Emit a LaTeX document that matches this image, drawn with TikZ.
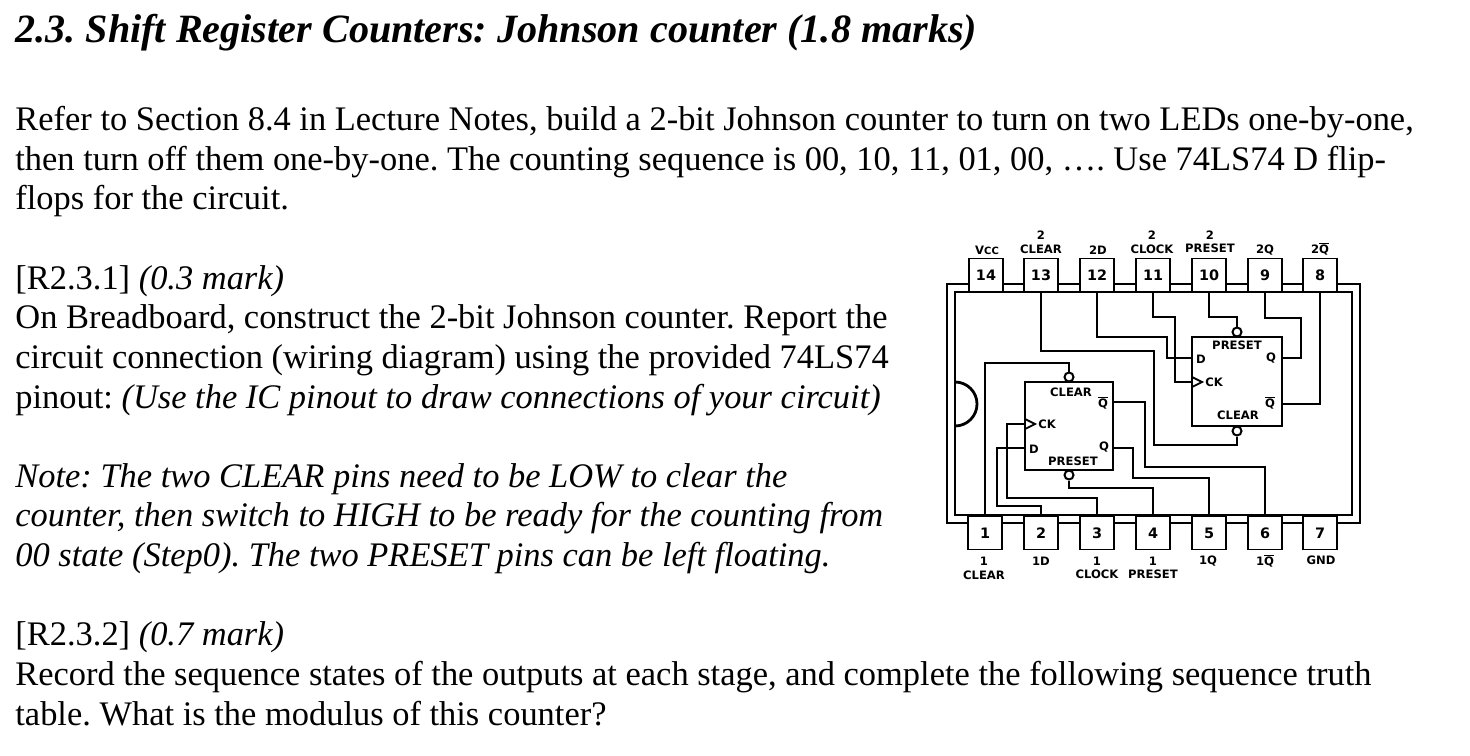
\documentclass[tikz,border=0pt]{standalone}
\usepackage{fontspec}
\setmainfont{Liberation Serif}
\setsansfont{DejaVu Sans}
\frenchspacing
\usetikzlibrary{positioning}

\tikzset{
  bodytext/.style={anchor=base west, inner sep=0pt, font=\fontsize{17.22}{20}\selectfont},
  headtext/.style={anchor=base west, inner sep=0pt, font=\fontsize{20.08}{22}\selectfont\bfseries\itshape},
  pinbox/.style={draw, line width=0.9pt, minimum width=17pt, minimum height=16.5pt, inner sep=0pt, font=\sffamily\bfseries\fontsize{7.2}{8}\selectfont},
  pinlabel/.style={inner sep=0pt, font=\sffamily\bfseries\fontsize{5.8}{7}\selectfont},
  fflabel/.style={inner sep=0pt, font=\sffamily\bfseries\fontsize{5.8}{7}\selectfont},
  ffbox/.style={draw, line width=1pt, inner sep=0pt},
  bubble/.style={circle, draw, line width=1pt, minimum size=4.5pt, inner sep=0pt},
  wire/.style={line width=0.9pt}
}

\newcommand{\qbar}{\leavevmode\vbox{\hrule height 0.5pt \kern 0.4pt \hbox{Q}}}

\begin{document}
\begin{tikzpicture}[x=0.5pt, y=-0.5pt]
  \useasboundingbox (0, 0) rectangle (1470, 755);

  % question text
  \foreach \ytext / \mytext in {
    130 / {Refer to Section 8.4 in Lecture Notes, build a 2-bit Johnson counter to turn on two LEDs one-by-one,},
    170 / {then turn off them one-by-one. The counting sequence is 00, 10, 11, 01, 00, \dots. Use 74LS74 D flip-},
    209 / {flops for the circuit.},
    328 / {On Breadboard, construct the 2-bit Johnson counter. Report the},
    368 / {circuit connection (wiring diagram) using the provided 74LS74},
    685 / {Record the sequence states of the outputs at each stage, and complete the following sequence truth},
    725 / {table. What is the modulus of this counter?}
  }{
    \node[bodytext] at (15, \ytext) {\mytext};
  }
  \node[headtext] (title) at (15, 42) {2.3. Shift Register Counters: Johnson counter (1.8 marks)};
  \node[bodytext] (reqone) at (15, 289) {[R2.3.1] \textit{(0.3 mark)}};
  \node[bodytext] (pinout) at (15, 408) {pinout: \textit{(Use the IC pinout to draw connections of your circuit)}};
  \node[bodytext] (noteone) at (15, 487) {\textit{Note: The two CLEAR pins need to be LOW to clear the}};
  \node[bodytext] (notetwo) at (15, 526) {\textit{counter, then switch to HIGH to be ready for the counting from}};
  \node[bodytext] (notethree) at (15, 566) {\textit{00 state (Step0). The two PRESET pins can be left floating.}};
  \node[bodytext] (reqtwo) at (15, 645) {[R2.3.2] \textit{(0.7 mark)}};

  % package outline, double line
  \draw[wire] (947, 284) -- (947, 523) -- (1360, 523) -- (1360, 284) -- cycle;
  \draw[wire] (955, 292) -- (955, 515) -- (1352, 515) -- (1352, 292) -- cycle;
  \draw[line width=1.4pt] (955, 382) arc (-90:90:22);

  % pins
  \foreach \pin / \xpin in {14/986, 13/1041, 12/1097, 11/1153, 10/1209, 9/1265, 8/1320}{
    \node[pinbox, fill=white] (p\pin) at (\xpin, 275) {\pin};
  }
  \foreach \pin / \xpin in {1/985, 2/1041, 3/1097, 4/1153, 5/1209, 6/1265, 7/1320}{
    \node[pinbox, fill=white] (p\pin) at (\xpin, 533) {\pin};
  }

  % pin labels
  \foreach \name / \xl / \yl / \txt in {
    vcc/987/250/{V{\fontsize{5}{6}\selectfont CC}}, ctwoa/1041/235/2, ctwob/1041/249/CLEAR, dtwo/1098/250/2D,
    ktwoa/1152/235/2, ktwob/1152/249/CLOCK, ptwoa/1210/235/2, ptwob/1210/248/PRESET,
    qtwo/1265/250/2Q, nqtwo/1320/249/2\qbar,
    conea/984/561/1, coneb/984/575/CLEAR, done/1041/561/1D, kone/1097/561/1, koneb/1097/574/CLOCK,
    pone/1153/561/1, poneb/1153/574/PRESET, qone/1208/561/1Q, nqone/1265/561/1\qbar, gnd/1321/560/GND
  }{
    \node[pinlabel] (l\name) at (\xl, \yl) {\txt};
  }

  % flip-flops
  \draw[ffbox] (1192, 337) rectangle (1282, 426);
  \draw[ffbox] (1025, 382) rectangle (1113, 470);
  \coordinate (fftwoD) at (1192, 358);
  \coordinate (fftwoCK) at (1192, 382);
  \coordinate (fftwoQ) at (1282, 358);
  \coordinate (fftwoNQ) at (1282, 404);
  \coordinate (ffoneD) at (1025, 448);
  \coordinate (ffoneCK) at (1025, 424);
  \coordinate (ffoneQ) at (1113, 448);
  \coordinate (ffoneNQ) at (1113, 402);
  \node[bubble] (ptwo) at (1237, 332) {};
  \node[bubble] (ctwo) at (1237, 431) {};
  \node[bubble] (cone) at (1069, 377) {};
  \node[bubble] (pone) at (1069, 475) {};
  \draw[wire] (fftwoCK) ++(0, -5) -- ++(10, 5) -- ++(-10, 5);
  \draw[wire] (ffoneCK) ++(0, -5) -- ++(10, 5) -- ++(-10, 5);

  \foreach \name / \xl / \yl / \txt in {
    a/1237/345/PRESET, b/1201/359/D, c/1271/358/Q, d/1214/382/CK, e/1270/403/\qbar, f/1238/415/CLEAR,
    g/1071/392/CLEAR, h/1103/403/\qbar, i/1047/424/CK, j/1034/449/D, k/1104/447/Q, l/1073/461/PRESET
  }{
    \node[fflabel] (ff\name) at (\xl, \yl) {\txt};
  }

  % wiring
  \draw[wire] (p13.south) |- (1154, 351) |- (1237, 445) -- (ctwo.south);
  \draw[wire] (p12.south) |- (1167, 337) |- (fftwoD);
  \draw[wire] (p11.south) |- (1175, 317) |- (fftwoCK);
  \draw[wire] (p10.south) |- (1237, 317) -- (ptwo.north);
  \draw[wire] (p9.south) |- (1301, 318) |- (fftwoQ);
  \draw[wire] (p8.south) |- (fftwoNQ);
  \draw[wire] (p1.north) |- (1069, 363) -- (cone.north);
  \draw[wire] (p2.north) |- (997, 506) |- (ffoneD);
  \draw[wire] (p3.north) |- (1007, 498) |- (ffoneCK);
  \draw[wire] (p4.north) |- (1069, 488) -- (pone.south);
  \draw[wire] (p5.north) |- (1133, 478) |- (ffoneQ);
  \draw[wire] (p6.north) |- (1145, 467) |- (ffoneNQ);
\end{tikzpicture}
\end{document}
